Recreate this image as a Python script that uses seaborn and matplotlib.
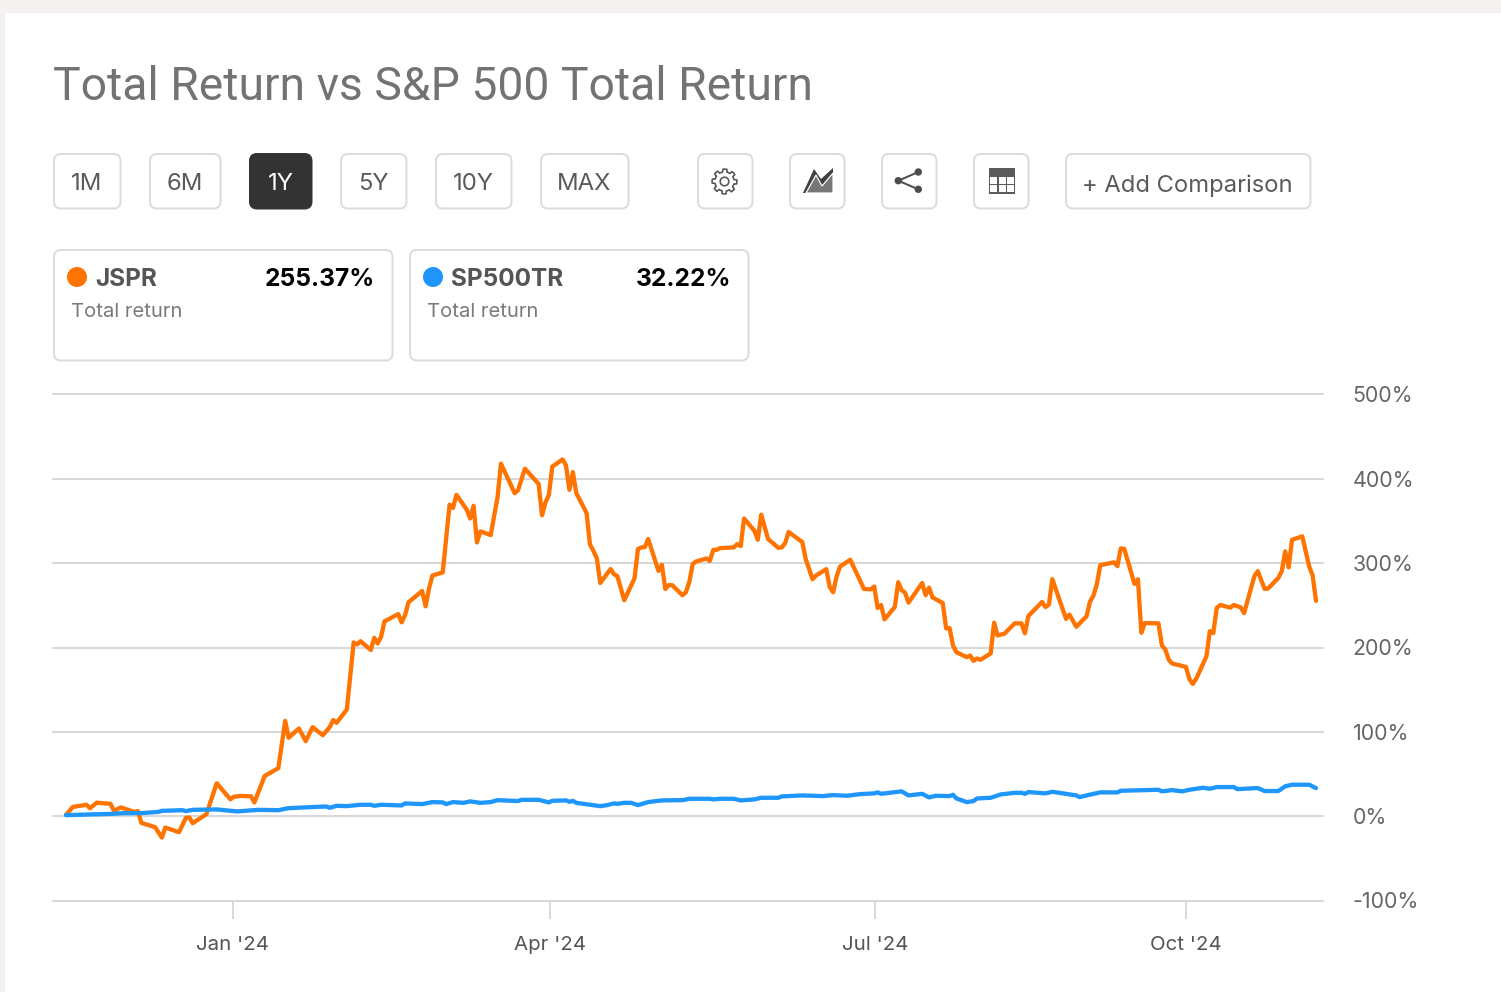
import numpy as np
import pandas as pd
import matplotlib
matplotlib.use("Agg")
import matplotlib.pyplot as plt
from matplotlib.patches import FancyBboxPatch, Rectangle, Circle, Polygon
import seaborn as sns

# ---------- data: days since the start of the one-year window, total return % ----------
jspr_days = [0,2,6,7,9,13,14,16,20,21,22,26,28,29,33,35,36,37,41,44,48,49,51,54,55,58,62,64,65,68,70,72,75,77,78,79,82,
             84,85,86,89,90,91,92,93,97,98,99,100,104,105,106,107,110,112,113,114,117,118,119,120,121,124,126,127,131,132,134,
             138,139,140,141,142,145,146,147,148,149,152,153,154,155,156,159,160,161,163,166,167,168,169,170,173,174,175,176,177,
             180,181,182,183,184,187,188,189,190,191,195,196,197,198,201,202,203,205,208,209,210,211,215,216,218,219,222,223,224,
             225,226,229,233,235,236,237,238,239,242,243,244,245,246,250,251,252,253,256,257,258,259,260,263,264,265,266,267,270,
             271,272,274,277,279,280,281,285,286,287,288,292,293,295,298,299,300,301,302,306,307,308,309,312,313,314,315,319,320,
             321,322,323,327,328,329,330,333,334,335,336,337,340,341,343,344,347,348,350,351,354,355,356,357,358,361,363,364,365]
jspr_return = [1.5,11,13.5,9.5,16,14.6,6.3,10.4,5,6,-8,-13,-25.4,-13.5,-19,-2,-1.5,-8.3,2.4,39,20,23,24,23.5,16.3,47.6,57,113,93,104,89,105.6,96,105.6,114,110.7,126.5,
               206,203.6,207.5,197,211.5,204.8,212.7,231,239.6,229.8,238.5,253.6,267,248.8,270,285.4,289,369.4,365.5,381,363.5,353,368,324.6,337.7,333.3,378,418,383,386.5,412,
               394,356.8,372,381,414.6,423,415.8,387,408,383,359.5,322,314.6,305.6,276.5,293,287,284.5,256,282,316.7,318.7,319,328.6,290.8,298,269.4,274,273.8,
               262,265.5,277.7,299,302,305.6,302.7,315.8,315.8,317.9,318.7,322.6,320.2,353,338.4,327.7,357.5,328.6,318.2,318.7,323.8,337,325,304.8,281,285.4,292.9,271.8,265.5,
               284,296,304,269.4,269,272.3,246.8,250.4,233.3,248,277.4,268,265,253.2,276.5,262,271,259.5,252.7,222.6,223,202.4,194.4,188.5,190.5,184.2,187,185.4,192.9,
               229.4,214.3,216.3,228.6,228.6,216.7,237.3,254,248,250.8,281,234,239,224.6,237,254.4,261.5,275,297.6,301,296.4,317.5,317,275.4,281,217.5,229,228.6,202.4,
               197.6,185.4,181,177,163,156.8,162.7,189.6,219.4,217,246.8,250.4,247.3,250.4,247.6,240.8,284.5,290.5,269.4,270,282.5,290.5,314,295,327.7,331.8,296,285.7,255.4]

sp_days = [0,13,17,22,27,28,34,35,37,44,50,56,62,65,76,77,79,82,86,89,90,92,98,99,104,107,110,111,113,116,118,121,124,126,
           132,133,138,141,142,146,147,148,149,156,158,160,161,163,165,167,170,174,180,182,188,189,191,195,197,201,203,208,209,215,
           221,224,228,232,236,237,238,244,246,250,252,254,258,259,260,263,265,266,270,273,277,279,280,281,286,288,295,296,298,302,
           307,308,319,320,323,326,328,332,334,336,341,342,348,350,354,356,358,363,365]
sp_return = [1.2,2.7,3.6,3.6,5.1,6.3,7.1,6,7.5,8,5.6,7.5,7.1,9.5,11.5,9.9,12.3,11.9,13.5,13.5,12.3,13.5,12.7,15.1,14.3,16.7,16.3,14.3,16.7,15.8,17.5,15.8,16.7,19,
             17.9,19.4,19.4,16.3,18.2,18.7,17,18.2,15.8,11.9,13.1,15.1,14.6,15.8,15.8,13.1,16.7,18.7,19,20.6,20.6,19.9,20.6,20.6,18.7,19.9,21.8,21.8,23.4,24.6,
             23.8,25,24.2,26.2,27,28.2,26.5,29.4,24.6,26.5,22.3,24.2,23.8,25.4,21,16.7,17.9,21,21.8,25.8,27.7,27.7,26.5,28.6,27,28.9,24.6,22.6,24.6,28.2,
             28.2,30.1,31.3,29.4,30.9,29.4,31.3,33.7,32.5,34.5,34.5,32.1,33.3,29.8,29.8,35.4,37.3,37.3,33.3]

tick_days = [48.7, 141.3, 236.2, 327]
tick_labels = ["Jan '24", "Apr '24", "Jul '24", "Oct '24"]
y_ticks = [-100, 0, 100, 200, 300, 400, 500]
y_labels = ["-100%", "0%", "100%", "200%", "300%", "400%", "500%"]

periods = ["1M", "6M", "1Y", "5Y", "10Y", "MAX"]
cards = [("JSPR", "255.37%"), ("SP500TR", "32.22%")]
title = "Total Return vs S&P 500 Total Return"

ORANGE = "#ff7300"
BLUE = "#1e96fc"
W, H = 1501, 992

sns.set_theme(style="white")
plt.rcParams["font.family"] = ["Inter", "DejaVu Sans"]

fig = plt.figure(figsize=(W / 100, H / 100), dpi=100, facecolor="#f5f1f0")


def px(v):
    return v * 0.72


# ---------- page overlay in pixel coordinates ----------
ui = fig.add_axes([0, 0, 1, 1], zorder=0)
ui.set_xlim(0, W)
ui.set_ylim(H, 0)
ui.axis("off")
ui.add_patch(Rectangle((5, 13), W - 5, H - 13, fc="white", ec="none"))


def box(x0, x1, y0, y1, fc="white", ec="#dcdcdc", r=7):
    x0, x1, y0, y1 = x0 + 1, x1 - 0.5, y0 + 1, y1 - 0.5
    ui.add_patch(FancyBboxPatch((x0 + r, y0 + r), x1 - x0 - 2 * r, y1 - y0 - 2 * r,
                                boxstyle=f"round,pad={r},rounding_size={r}",
                                fc=fc, ec=ec, lw=px(2)))


ui.text(53, 82, title, fontsize=33.3, color="#737373", va="center_baseline", ha="left",
        family=["Roboto", "DejaVu Sans"])

spans = [(53, 121), (149, 221), (249, 312), (340, 407), (435, 512), (540, 629)]
for lab, (a, b) in zip(periods, spans):
    on = lab == "1Y"
    box(a, b, 153, 209, fc="#333333" if on else "white", ec="#333333" if on else "#dcdcdc")
    ui.text((a + b) / 2, 181, lab, fontsize=17.2, ha="center", va="center_baseline",
            color="white" if on else "#5a5a5a")

for a in (697, 789, 881, 973):
    box(a, a + 56, 153, 209)

box(1065, 1311, 153, 209)
ui.text(1187.5, 183, "+ Add Comparison", fontsize=17.1, ha="center", va="center_baseline", color="#5a5a5a")

# gear icon
cx, cy = 724.5, 181.5
ang = np.linspace(0, 2 * np.pi, 97)
rad = 9.6 + 2.8 * (np.cos(8 * ang) > 0)
ui.add_patch(Polygon(np.c_[cx + rad * np.cos(ang), cy + rad * np.sin(ang)], closed=True,
                     fc="white", ec="#555555", lw=px(1.6), joinstyle="round"))
ui.add_patch(Circle((cx, cy), 4.3, fc="white", ec="#555555", lw=px(1.6)))

# area-chart icon
ui.add_patch(Polygon([(803, 193), (814, 169), (821, 179), (833, 168), (833, 193)], fc="#3f3f3f", ec="none"))
ui.add_patch(Polygon([(806, 193), (816, 175), (822, 186), (833, 173), (833, 193)], fc="#777777", ec="white", lw=px(1.2)))

# share icon
ui.plot([918.3, 898.3, 918.3], [172, 180.7, 189.3], color="#4d4d4d", lw=px(2))
for (sx, sy) in [(918.3, 172), (898.3, 180.7), (918.3, 189.3)]:
    ui.add_patch(Circle((sx, sy), 3.7, fc="#4d4d4d", ec="none"))

# table icon
ui.add_patch(Rectangle((989, 168), 26, 25.5, fc="#5a5a5a", ec="none"))
for c in range(3):
    for r_ in range(2):
        ui.add_patch(Rectangle((990.3 + c * 8.2, 177.3 + r_ * 8), 7, 6.8, fc="white", ec="none"))

# series cards
for (name, val), a, col, tx, sub, vr in zip(cards, (53, 409), (ORANGE, BLUE), (95, 451), (71, 427), (375, 731)):
    box(a, a + 340, 249, 361)
    ui.add_patch(Circle((a + 24, 277), 10, fc=col, ec="none"))
    ui.text(tx, 277, name, fontsize=17.5, fontweight="bold", color="#555555", va="center_baseline", ha="left")
    ui.text(vr, 277, val, fontsize=17.7, fontweight="bold", color="black", va="center_baseline", ha="right")
    ui.text(sub, 310, "Total return", fontsize=14.55, color="#7a7a7a", va="center_baseline", ha="left")

# ---------- chart ----------
L, R, T, B = 53, 1323, 394.5, 900.5
ax = fig.add_axes([L / W, 1 - B / H, (R - L) / W, (B - T) / H], zorder=1)
ax.patch.set_alpha(0)

jspr = pd.DataFrame({"day": jspr_days, "ret": jspr_return})
sp = pd.DataFrame({"day": sp_days, "ret": sp_return})
sns.lineplot(data=jspr, x="day", y="ret", estimator=None, sort=False, color=ORANGE, lw=px(4.3),
             solid_joinstyle="round", solid_capstyle="round", ax=ax, zorder=3, clip_on=False)
sns.lineplot(data=sp, x="day", y="ret", estimator=None, sort=False, color=BLUE, lw=px(4.3),
             solid_joinstyle="round", solid_capstyle="round", ax=ax, zorder=4, clip_on=False)

ax.set_xlim(-3.8, 367.04)
ax.set_ylim(-100, 500)
ax.set_xlabel("")
ax.set_ylabel("")
for s in ax.spines.values():
    s.set_visible(False)
ax.set_yticks(y_ticks)
ax.set_yticklabels(y_labels, ha="left")
ax.yaxis.tick_right()
ax.tick_params(axis="y", length=0, pad=px(29.5), labelsize=15.4, labelcolor="#666666")
ax.set_xticks(tick_days)
ax.set_xticklabels(tick_labels)
ax.tick_params(axis="x", length=px(18), width=px(1.5), color="#cfcfcf", pad=px(17.5),
               labelsize=14.7, labelcolor="#555555", bottom=True)
ax.grid(axis="y", color="#d8d8d8", lw=px(2))
ax.grid(axis="x", visible=False)
ax.set_axisbelow(True)
for gl in ax.get_ygridlines():
    gl.set_clip_on(False)

fig.savefig("out.png", dpi=100, facecolor=fig.get_facecolor())
